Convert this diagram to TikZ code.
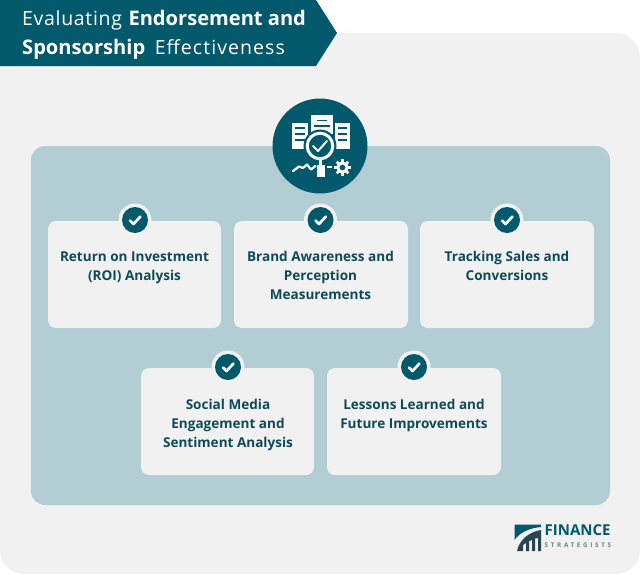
\documentclass[tikz,border=0pt]{standalone}
\usepackage{fontspec}
\usetikzlibrary{calc}
\setmainfont{Open Sans}
\newfontfamily\spaced[LetterSpace=3.5]{Open Sans}
\newfontfamily\spacedb[LetterSpace=5.5]{Open Sans}
\newfontfamily\logospaced[LetterSpace=41]{Open Sans}
\definecolor{teal1}{HTML}{01596B}
\definecolor{panel}{HTML}{B2CDD3}
\definecolor{greybg}{HTML}{F1F1F1}
\definecolor{txt}{HTML}{0F4A57}
\definecolor{logod}{HTML}{2A4550}
\definecolor{logog}{HTML}{6F8288}
\tikzset{
  card/.style={fill=greybg,rounded corners=8pt},
  cardtext/.style={text=txt,font=\fontsize{13.55}{19}\selectfont\bfseries,align=center,anchor=center,inner sep=0pt},
  titletext/.style={anchor=base west,inner sep=0pt,text=white},
  halo/.style={circle,fill=greybg,minimum size=33pt,inner sep=0pt},
  badge/.style={circle,fill=teal1,minimum size=26pt,inner sep=0pt},
  tick/.style={white,line width=2.7pt,line cap=round,line join=round},
  iconl/.style={teal1,line width=1.5pt}
}
\newcommand{\badgeat}[3]{%
  \node[halo] (#3h) at (#1,#2) {};
  \node[badge] (#3b) at (#1,#2) {};
  \draw[tick] ($(#1,#2)+(-5,0.5)$) -- ($(#1,#2)+(-1.5,4)$) -- ($(#1,#2)+(5.5,-3.5)$);
}
\newcommand{\tl}[1]{{\fontsize{19.5}{24}\selectfont\spaced #1}}
\newcommand{\tlb}[1]{{\fontsize{19.5}{24}\selectfont\spacedb #1}}
\newcommand{\tb}[1]{{\fontsize{20.1}{24}\selectfont\bfseries #1}}
\begin{document}
\begin{tikzpicture}[x=1pt,y=-1pt]
\useasboundingbox (0,0) rectangle (640,574);
% background panel
\fill[greybg,rounded corners=24pt] (0,33) rectangle (640,574);
% banner
\fill[teal1] (0,0) -- (316,0) -- (337,33) -- (316,66) -- (0,66) -- cycle;
\node[titletext] (t1) at (22,25) {\tl{Evaluating}\hspace{6.5pt}\tb{Endorsement and}};
\node[titletext] (t2) at (22,54) {\tb{Sponsorship}\hspace{9.5pt}\tlb{Effectiveness}};
% teal panel
\fill[panel,rounded corners=14pt] (31,146) rectangle (610,505);
% big icon
\node[circle,fill=teal1,minimum size=95pt,inner sep=0pt] (icon) at (320,146) {};
\fill[white] (292,123) rectangle (308,149);
\fill[white] (311,115) rectangle (333,134);
\fill[white] (334.5,123) rectangle (349.5,149);
\foreach \y in {128,134,140}{
  \draw[iconl] (295,\y) -- (305,\y);
  \draw[iconl] (337.5,\y) -- (346.5,\y);
}
\draw[iconl] (317,120.5) -- (327,120.5);
\draw[iconl] (314,126) -- (330,126);
\fill[teal1] (320,146) circle (16.5);
\draw[white,line width=3pt] (320,146) circle (12.8);
\draw[white,line width=2pt,line cap=round,line join=round] (313,146) -- (318,151) -- (327,141);
\fill[white] (318.5,159) rectangle (321.5,165);
\fill[white] (317,164.5) rectangle (324.5,177);
\draw[white,line width=2.2pt,line join=round,line cap=round] (293,171) -- (299,166.5) -- (303,168) -- (307,164.5) -- (311,169.5) -- (315.5,166);
\draw[white,line width=2pt] (327,167) -- (332,167);
\draw[white,line width=3pt] (342.5,167.5) circle (4.6);
\foreach \a in {0,45,...,315}{
  \draw[white,line width=2.6pt] ($(342.5,167.5)+(\a:5)$) -- ($(342.5,167.5)+(\a:8.2)$);
}
% cards
\fill[card] (48,221) rectangle (221,328);
\fill[card] (234,221) rectangle (408,328);
\fill[card] (420,221) rectangle (594,328);
\fill[card] (141,368) rectangle (314,475);
\fill[card] (327,368) rectangle (501,475);
\badgeat{135}{220}{a}
\badgeat{320.5}{220}{b}
\badgeat{507}{220}{c}
\badgeat{228}{367}{d}
\badgeat{414}{367}{e}
\node[cardtext] (ca) at (134.5,268) {Return on Investment\\(ROI) Analysis};
\node[cardtext] (cb) at (320.5,275) {Brand Awareness and\\Perception\\Measurements};
\node[cardtext] (cc) at (507,266) {Tracking Sales and\\Conversions};
\node[cardtext] (cd) at (228,425) {Social Media\\Engagement and\\Sentiment Analysis};
\node[cardtext] (ce) at (414,415) {Lessons Learned and\\Future Improvements};
% logo
\fill[teal1] (514.5,524.5) -- (541,524.5) -- (541,527) .. controls (530,528) and (520,532) .. (514.5,540) -- cycle;
\fill[logod] (517,551) .. controls (519,541) and (528,532) .. (541,530) -- (541,551) -- (538,551) -- (538,538) -- (535,538.5) -- (535,551) -- (532,551) -- (532,540) -- (529,541) -- (529,551) -- (526,551) -- (526,543) -- (523,545) -- (523,551) -- cycle;
\node[anchor=base west,inner sep=0pt,align=left] (logo) at (544.5,547) {\color{teal1}\fontsize{15}{7}\selectfont\bfseries FINANCE\\\color{logog}\fontsize{6.4}{7}\selectfont\logospaced\bfseries STRATEGISTS};
\end{tikzpicture}
\end{document}
